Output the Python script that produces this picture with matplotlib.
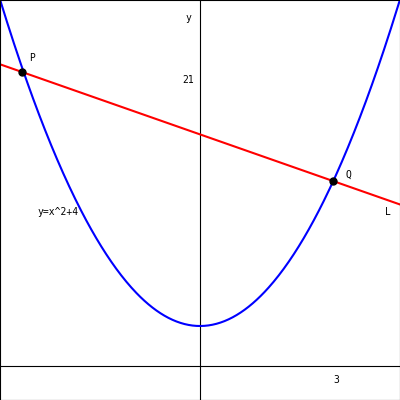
import matplotlib
matplotlib.use("Agg")
import matplotlib.pyplot as plt
import numpy as np

xs, ys = 35.0, 10.0  # px per unit
def d(px, py):
    return ((px - 200) / xs, (366 - py) / ys)

P = (-5.086, 29.4)
Q = (3.8, 18.5)
slope = (Q[1] - P[1]) / (Q[0] - P[0])

fig = plt.figure(figsize=(4, 4), dpi=100)
ax = fig.add_axes([0, 0, 1, 1])
xmin, xmax = d(0, 0)[0], d(400, 0)[0]
ymin, ymax = d(0, 400)[1], d(0, 0)[1]
ax.set_xlim(xmin, xmax); ax.set_ylim(ymin, ymax)
ax.axhline(0, color='black', lw=0.8)
ax.axvline(0, color='black', lw=0.8)
x = np.linspace(xmin, xmax, 400)
ax.plot(x, x**2 + 4, color='blue', lw=1.5)
ax.plot(x, P[1] + slope * (x - P[0]), color='red', lw=1.5)
ax.plot(*zip(P, Q), 'o', color='black', ms=5)
for s, px, py in [("y", 188, 18), ("21", 188, 80), ("3", 336, 380), ("P", 32, 58),
                  ("Q", 348, 175), ("L", 388, 212), ("y=x^2+4", 58, 212)]:
    ax.text(*d(px, py), s, family='DejaVu Sans Mono', fontsize=7, ha='center', va='center')
ax.set_xticks([]); ax.set_yticks([])
for sp in ax.spines.values():
    sp.set_color('black')
fig.savefig("out.png", dpi=100)
